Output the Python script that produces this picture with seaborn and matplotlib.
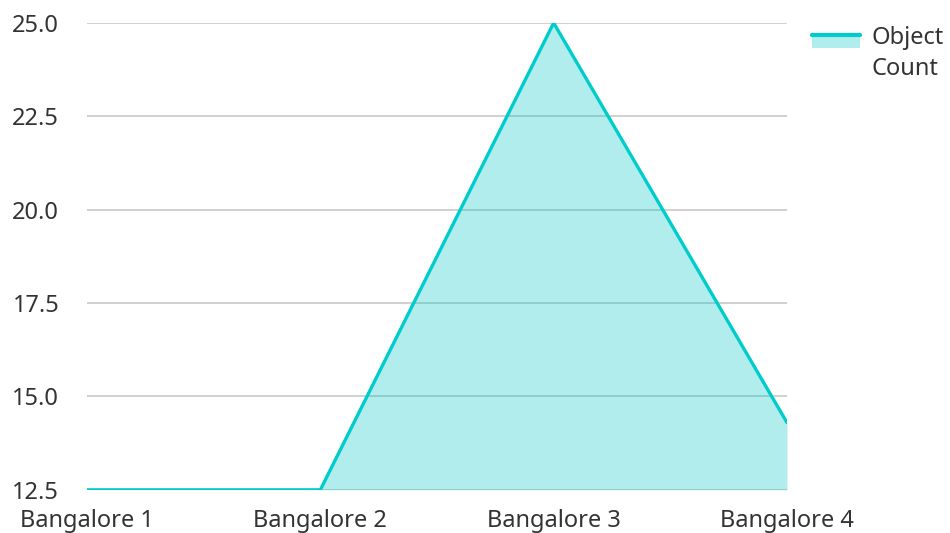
import pandas as pd
import numpy as np
import matplotlib.pyplot as plt
import seaborn as sns
from matplotlib.legend_handler import HandlerBase
from matplotlib.patches import Rectangle
from matplotlib.lines import Line2D

# --- dane ---
locations = ["Bangalore 1", "Bangalore 2", "Bangalore 3", "Bangalore 4"]
object_count = [12.5, 12.5, 25.0, 14.3]
y_ticks = [12.5, 15.0, 17.5, 20.0, 22.5, 25.0]

line_color = "#00cccc"
fill_color = "#00c4c4"
fill_alpha = 0.3
text_color = "#333333"


class AreaHandler(HandlerBase):
    """Legenda: wypelnienie z linia na gorze, przy pierwszej linii tekstu."""
    def __init__(self, y_shift=0, **kw):
        super().__init__(**kw)
        self.y_shift = y_shift

    def create_artists(self, legend, orig_handle, xdescent, ydescent,
                       width, height, fontsize, trans):
        y0 = -ydescent + self.y_shift
        rect = Rectangle((-xdescent, y0), width, height, facecolor=fill_color,
                         alpha=fill_alpha, edgecolor="none", transform=trans)
        line = Line2D([-xdescent, -xdescent + width], [y0 + height, y0 + height],
                      color=line_color, linewidth=3, transform=trans)
        return [rect, line]


df = pd.DataFrame({"location": locations, "count": object_count})

sns.set_style("white")
plt.rcParams["font.family"] = ["Noto Sans", "DejaVu Sans"]

fig = plt.figure(figsize=(9.5, 5.33), dpi=100)
ax = fig.add_axes([0.0916, 0.081, 0.7368, 0.876])

x_pos = np.arange(len(locations))
ax.fill_between(x_pos, df["count"], 12.5, color=fill_color, alpha=fill_alpha,
                linewidth=0, zorder=2)
sns.lineplot(data=df, x="location", y="count", color=line_color, linewidth=2.4,
             ax=ax, zorder=3)

ax.set_xlim(0, len(locations) - 1)
ax.set_ylim(12.5, 25.0)
ax.set_yticks(y_ticks)
ax.set_yticklabels([f"{v:.1f}" for v in y_ticks])
ax.set_xticks(x_pos)
ax.set_xticklabels(locations)
ax.grid(axis="y", color="#c8c8c8", linewidth=1.2, zorder=1)
ax.set_axisbelow(True)
for s in ax.spines.values():
    s.set_visible(False)
ax.tick_params(axis="both", length=0, labelsize=17, colors=text_color)
ax.tick_params(axis="y", pad=20)
ax.tick_params(axis="x", pad=14)
ax.set_xlabel("")
ax.set_ylabel("")

leg = fig.legend(handles=[Rectangle((0, 0), 1, 1)], labels=["Object\nCount"],
                 handler_map={Rectangle: AreaHandler(y_shift=9)},
                 loc="upper left", bbox_to_anchor=(0.855, 0.952), frameon=False,
                 fontsize=17, handlelength=2.03, handleheight=0.45, handletextpad=0.47,
                 labelcolor=text_color, borderaxespad=0, borderpad=0)
leg.get_texts()[0].set_linespacing(1.42)

fig.savefig("out.png", dpi=100)
